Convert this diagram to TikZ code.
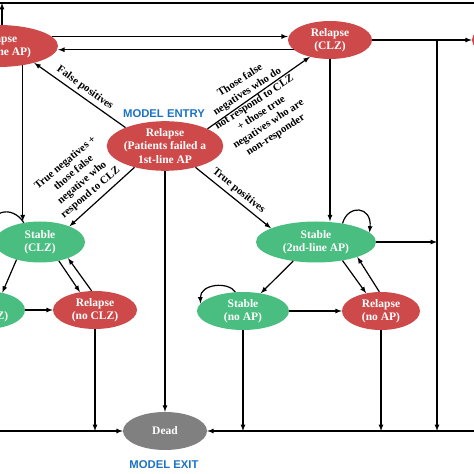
\documentclass[tikz,border=0pt]{standalone}
\usepackage{fontspec}
\setmainfont{Liberation Serif}
\newfontfamily\modelfont{Liberation Sans}
\usetikzlibrary{shapes.geometric}

\definecolor{relred}{RGB}{206,74,74}
\definecolor{stgreen}{RGB}{74,190,128}
\definecolor{deadgray}{RGB}{128,128,128}
\definecolor{modelblue}{RGB}{30,114,196}

\begin{document}
\begin{tikzpicture}[x=1pt,y=1pt,
    link/.style={line width=1.2pt,-latex},
    state/.style={ellipse,inner sep=0pt,text=white,align=center,
        font=\bfseries\fontsize{11.5}{13.5}\selectfont},
    relapse/.style={state,fill=relred},
    stable/.style={state,fill=stgreen},
    lbl/.style={align=center,font=\bfseries\fontsize{10.8}{13}\selectfont},
    model/.style={text=modelblue,font=\modelfont\bfseries\fontsize{11.3}{13}\selectfont}]
    \useasboundingbox (0,0) rectangle (474,474);

    % states
    \node[relapse,minimum width=120pt,minimum height=42pt] (rel2) at (-2,428) {Relapse\\(2nd-line AP)};
    \node[relapse,minimum width=84pt,minimum height=38pt] (relclz) at (330,434) {Relapse\\(CLZ)};
    \node[relapse,minimum width=84pt,minimum height=38pt] (relright) at (514,434) {};
    \node[relapse,minimum width=114pt,minimum height=44pt] (entry) at (165,328) {Relapse\\(Patients failed a\\1st-line AP};
    \node[stable,minimum width=90pt,minimum height=41pt] (stclz) at (40,232) {Stable\\(CLZ)};
    \node[stable,minimum width=80pt,minimum height=38pt] (stnoclz) at (-15,164) {Stable\\(no CLZ)};
    \node[relapse,minimum width=84pt,minimum height=38pt] (relnoclz) at (95,164) {Relapse\\(no CLZ)};
    \node[stable,minimum width=120pt,minimum height=41pt] (st2) at (316,232) {Stable\\(2nd-line AP)};
    \node[stable,minimum width=92pt,minimum height=38pt] (stnoap) at (243,163) {Stable\\(no AP)};
    \node[relapse,minimum width=78pt,minimum height=38pt] (relnoap) at (381,163) {Relapse\\(no AP)};
    \node[state,fill=deadgray,minimum width=84pt,minimum height=38pt] (dead) at (165,43) {Dead};

    \node[model] (entrytxt) at (164,360) {MODEL ENTRY};
    \node[model] (exittxt) at (164,9) {MODEL EXIT};

    % frame lines
    \coordinate (tl) at (0,471);
    \coordinate (tr) at (474,471);
    \coordinate (bl) at (0,43);
    \coordinate (br) at (474,43);
    \draw[line width=1.2pt] (tl) -- (tr);
    \draw[link] (rel2.north -| 2,0) -- (2,471);

    % top row
    \draw[link] (rel2.10) -- (rel2.10 -| relclz.west);
    \draw[link] (relclz.195) -- (relclz.195 -| rel2.east);
    \draw[link] (relclz.east) -- (relright.west);
    \coordinate (jr) at (relclz.east -| 437,0);
    \draw[link] (jr) -- (jr |- br);

    % from model entry
    \draw[link] (entry.155) -- node[lbl,midway,above,sloped] {False positives} (rel2.335);
    \draw[link] (entry.22) -- (relclz.220);
    \node[lbl,rotate=33] (negtxt) at (258,366) {Those false\\negatives who do\\not respond to CLZ\\+ those true\\negatives who are\\non-responder};
    \draw[link] (entry.215) -- (stclz.28);
    \node[lbl,rotate=40] (tnegtxt) at (78,296) {True negatives +\\those false\\negative who\\respond to CLZ};
    \draw[link] (entry.325) -- node[lbl,midway,above,sloped] {True positives} (st2.163);
    \draw[link] (entry.south) -- (dead.north);

    % clozapine branch
    \draw[link] (rel2.322) -- (rel2.322 |- stclz.north);
    \draw[link] (stclz.130) .. controls (12,270) and (-14,264) .. (stclz.180);
    \draw[link] (stclz.217) -- (stnoclz.45);
    \draw[link] (stclz.315) -- (relnoclz.130);
    \draw[link] (relnoclz.100) -- (stclz.330);
    \draw[link] (stnoclz.east) -- (relnoclz.west);
    \draw[link] (relnoclz.south) -- (relnoclz.south |- bl);

    % 2nd-line branch
    \draw[link] (relclz.south) -- (relclz.south |- st2.north);
    \draw[link] (st2.35) .. controls (348,270) and (372,268) .. (st2.10);
    \draw[link] (st2.east) -- (st2.east -| jr);
    \draw[link] (st2.220) -- (stnoap.45);
    \draw[link] (st2.325) -- (relnoap.130);
    \draw[link] (relnoap.95) -- (st2.340);
    \draw[link] (stnoap.112) .. controls (228,193) and (200,190) .. (stnoap.170);
    \draw[link] (stnoap.east) -- (relnoap.west);
    \draw[link] (stnoap.south) -- (stnoap.south |- br);
    \draw[link] (relnoap.south) -- (relnoap.south |- br);

    % to dead
    \draw[link] (bl) -- (dead.west);
    \draw[link] (br) -- (dead.east);
\end{tikzpicture}
\end{document}
